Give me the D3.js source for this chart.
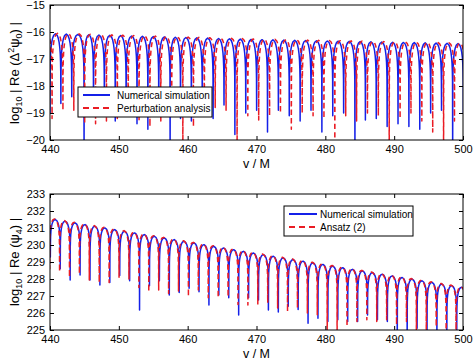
<!DOCTYPE html>
<html><head><meta charset="utf-8">
<script src="https://cdn.jsdelivr.net/npm/d3@7"></script>
<style>
body{margin:0;background:#fff;}
svg{display:block;font-family:"Liberation Sans",Arial,Helvetica,sans-serif;}
</style></head>
<body><svg id="c" width="474" height="359"></svg>
<script>
// ---------- data ----------
const xTicks = [440,450,460,470,480,490,500];
const yTicksTop = [-20,-19,-18,-17,-16,-15];
const yTicksBot = [225,226,227,228,229,230,231,232,233];

// top panel: dip positions (v/M) and dip depths
const topNumDipV = [438.42,440.00,441.58,443.16,444.95,446.32,447.90,449.48,451.06,452.64,454.22,455.80,457.45,458.96,460.54,462.12,463.70,465.28,466.86,468.44,470.02,471.60,473.18,474.76,476.34,477.92,479.50,481.08,482.66,484.30,485.82,487.40,488.98,490.56,492.14,493.72,495.30,496.88,498.50,500.06];
const topNumDipY = [-19.0,-19.0,-18.65,-18.4,-20.6,-18.8,-19.0,-19.3,-18.7,-19.4,-19.6,-18.9,-20.6,-19.2,-19.3,-18.8,-19.2,-18.7,-19.8,-19.0,-18.9,-19.7,-18.9,-19.1,-19.3,-18.9,-19.7,-19.1,-19.0,-20.6,-19.26,-19.2,-19.5,-19.4,-19.5,-19.6,-19.0,-18.9,-20.6,-19.0];
const topPertDipV = [438.72,440.30,441.88,443.46,445.04,446.62,448.20,449.78,451.36,452.94,454.52,456.10,457.68,459.30,460.84,462.42,464.00,465.58,467.18,468.74,470.32,471.90,473.48,475.06,476.64,478.22,479.80,481.38,482.96,484.54,486.12,487.70,489.28,490.86,492.44,494.02,495.60,497.18,498.76,500.34];
const topPertDipY = [-19.2,-19.2,-18.9,-18.9,-19.4,-19.4,-19.3,-19.2,-19.1,-19.3,-19.5,-19.3,-19.0,-20.6,-19.5,-19.1,-18.8,-18.9,-20.6,-19.1,-19.26,-19.1,-19.0,-19.6,-19.0,-19.1,-19.2,-20.6,-19.1,-19.3,-19.0,-19.1,-20.6,-19.2,-19.0,-19.3,-19.7,-20.6,-19.3,-19.2];
const topPeakV = [440,470,500];
const topNumPeak = [-16.06,-16.28,-16.43];
const topPertPeak = [-16.04,-16.26,-16.41];

// bottom panel
const botNumDipV = [438.61,440.05,441.49,442.93,444.37,445.81,447.25,448.69,450.13,451.57,453.01,454.45,455.89,457.33,458.77,460.21,461.65,463.09,464.53,465.97,467.41,468.85,470.29,471.73,473.17,474.61,476.05,477.49,478.93,480.37,481.81,483.25,484.69,486.13,487.57,489.01,490.45,491.89,493.33,494.77,496.21,497.65,499.09,500.53];
const botNumDipY = [229.0,229.3,228.6,227.94,228.24,227.94,227.65,227.8,228.2,227.9,226.18,227.6,227.9,227.06,227.2,227.45,227.25,226.47,227.06,226.9,225.88,226.9,226.76,226.18,226.06,226.4,226.2,225.39,225.69,225.5,225.6,225.5,225.5,225.88,225.6,225.5,224.5,224.5,225.1,224.5,224.5,224.5,224.5,225.0];
const botAnsDipV = [438.51,439.95,441.39,442.83,444.27,445.71,447.15,448.59,450.03,451.47,452.91,454.35,455.79,457.23,458.67,460.11,461.55,462.99,464.43,465.87,467.31,468.75,470.19,471.63,473.07,474.51,475.95,477.39,478.83,480.27,481.71,483.15,484.59,486.03,487.47,488.91,490.35,491.79,493.23,494.67,496.11,497.55,498.99,500.43];
const botAnsDipY = [228.6,228.6,228.43,228.1,228.3,227.94,227.8,227.8,228.1,228.0,227.5,227.25,227.35,227.15,227.3,226.96,227.35,226.9,226.9,226.95,226.5,226.47,226.5,226.6,226.3,226.08,226.3,226.0,225.9,224.5,224.5,225.2,225.5,225.6,225.5,225.6,225.3,225.5,224.5,224.5,225.2,224.5,225.0,225.0];
const botPeakV = [440,470,500];
const botNumPeak = [231.55,229.5,227.5];
const botAnsPeak = [231.58,229.53,227.53];

// shape of one lobe between two dips (fraction of spacing, drop below the peak)
const lobeT    = [0.012,0.03,0.06,0.1,0.16,0.24,0.34,0.5,0.66,0.76,0.84,0.9,0.94,0.97,0.988];
const lobeDrop = [-1.42,-1.03,-0.727,-0.51,-0.317,-0.165,-0.057,0,-0.057,-0.165,-0.317,-0.51,-0.727,-1.03,-1.42];

// ---------- drawing ----------
const svg = d3.select("#c");
const BLUE = "#1420e8", RED = "#ea1c24";
const L = 50, R = 463;
const panels = [
  {top:5, bot:140, yDom:[-20,-15], yTicks:yTicksTop,
   series:[{dv:topNumDipV, dy:topNumDipY, pk:topNumPeak, pv:topPeakV, color:BLUE, dash:null},
           {dv:topPertDipV, dy:topPertDipY, pk:topPertPeak, pv:topPeakV, color:RED, dash:"5,3.5"}],
   legend:{x:78,y:87,w:134,h:30, labels:["Numerical simulation","Perturbation analysis"], lx1:83, lx2:110, tx:117},
   ylabel:{x:15, y:73}, xl:168, name:"top"},
  {top:194, bot:330, yDom:[225,233], yTicks:yTicksBot,
   series:[{dv:botNumDipV, dy:botNumDipY, pk:botNumPeak, pv:botPeakV, color:BLUE, dash:null},
           {dv:botAnsDipV, dy:botAnsDipY, pk:botAnsPeak, pv:botPeakV, color:RED, dash:"5,3.5"}],
   legend:{x:284,y:206,w:129,h:30, labels:["Numerical simulation","Ansatz (2)"], lx1:289, lx2:317, tx:320},
   ylabel:{x:15, y:262}, xl:357.5, name:"bot"}
];

function buildPoints(s){
  const env = d3.scaleLinear().domain(s.pv).range(s.pk);
  const pts = [];
  for(let i=0;i<s.dv.length-1;i++){
    const a=s.dv[i], b=s.dv[i+1], w=b-a;
    pts.push([a, s.dy[i]]);
    lobeT.forEach((t,j)=>{
      const v=a+t*w;
      let y = env(v)+lobeDrop[j];
      if(j<7) y=Math.max(y, s.dy[i]); else y=Math.max(y, s.dy[i+1]);
      pts.push([v,y]);
    });
  }
  pts.push([s.dv[s.dv.length-1], s.dy[s.dy.length-1]]);
  return pts;
}

panels.forEach(p=>{
  const x = d3.scaleLinear().domain([440,500]).range([L,R]);
  const y = d3.scaleLinear().domain(p.yDom).range([p.bot,p.top]);
  const g = svg.append("g");
  g.append("clipPath").attr("id","clip-"+p.name).append("rect")
    .attr("x",L).attr("y",p.top).attr("width",R-L).attr("height",p.bot-p.top);
  const line = d3.line().x(d=>x(d[0])).y(d=>y(d[1]));
  const plot = g.append("g").attr("clip-path","url(#clip-"+p.name+")");
  p.series.forEach(s=>{
    plot.append("path").attr("d",line(buildPoints(s)))
      .attr("fill","none").attr("stroke",s.color).attr("stroke-width",1.5)
      .attr("stroke-dasharray",s.dash).attr("stroke-linejoin","round");
  });
  // axes
  const fs = "11px";
  const ax = g.append("g").attr("transform",`translate(0,${p.bot})`)
    .call(d3.axisBottom(x).tickValues(xTicks).tickSizeInner(-4).tickSizeOuter(0).tickPadding(5).tickFormat(d3.format("d")));
  const axT = g.append("g").attr("transform",`translate(0,${p.top})`)
    .call(d3.axisTop(x).tickValues(xTicks).tickSizeInner(-4).tickSizeOuter(0).tickFormat(""));
  const ay = g.append("g").attr("transform",`translate(${L},0)`)
    .call(d3.axisLeft(y).tickValues(p.yTicks).tickSizeInner(-4).tickSizeOuter(0).tickPadding(5).tickFormat(d3.format("d")));
  const ayR = g.append("g").attr("transform",`translate(${R},0)`)
    .call(d3.axisRight(y).tickValues(p.yTicks).tickSizeInner(-4).tickSizeOuter(0).tickFormat(""));
  [ax,axT,ay,ayR].forEach(a=>{
    a.select(".domain").remove();
    a.selectAll("line").attr("stroke","#000");
    a.selectAll("text").attr("font-size",fs).attr("font-family","Liberation Sans, Arial, sans-serif").attr("fill","#000");
  });
  g.append("rect").attr("x",L).attr("y",p.top).attr("width",R-L).attr("height",p.bot-p.top)
    .attr("fill","none").attr("stroke","#000").attr("stroke-width",1);
  // x label
  g.append("text").attr("x",(L+R)/2).attr("y",p.xl).attr("text-anchor","middle")
    .attr("font-size","12.5px").text("v / M");
  // y label
  const yl = g.append("text").attr("transform",`translate(${p.ylabel.x+4},${p.ylabel.y}) rotate(-90)`)
    .attr("text-anchor","middle").attr("font-size","13px");
  yl.append("tspan").text("log");
  yl.append("tspan").attr("font-size","9px").attr("dy","3").text("10");
  if(p.name==="top"){
    yl.append("tspan").attr("dy","-3").text(" | Re (\u0394");
    yl.append("tspan").attr("font-size","9px").attr("dy","-5").text("2");
    yl.append("tspan").attr("dy","5").text("\u03C8");
    yl.append("tspan").attr("font-size","9px").attr("dy","3").text("0");
    yl.append("tspan").attr("dy","-3").text(") |");
  } else {
    yl.append("tspan").attr("dy","-3").text(" | Re (\u03C8");
    yl.append("tspan").attr("font-size","9px").attr("dy","3").text("4");
    yl.append("tspan").attr("dy","-3").text(") |");
  }
  // legend
  const lg = p.legend;
  const leg = g.append("g");
  leg.append("rect").attr("x",lg.x).attr("y",lg.y).attr("width",lg.w).attr("height",lg.h)
    .attr("fill","#fff").attr("stroke","#000").attr("stroke-width",1);
  p.series.forEach((s,i)=>{
    const yy = lg.y + 8 + i*13;
    leg.append("line").attr("x1",lg.lx1).attr("x2",lg.lx2).attr("y1",yy).attr("y2",yy)
      .attr("stroke",s.color).attr("stroke-width",2).attr("stroke-dasharray",s.dash ? "6,4" : null);
    leg.append("text").attr("x",lg.tx).attr("y",yy+3.5).attr("font-size","10px").text(lg.labels[i]);
  });
});
</script></body></html>
